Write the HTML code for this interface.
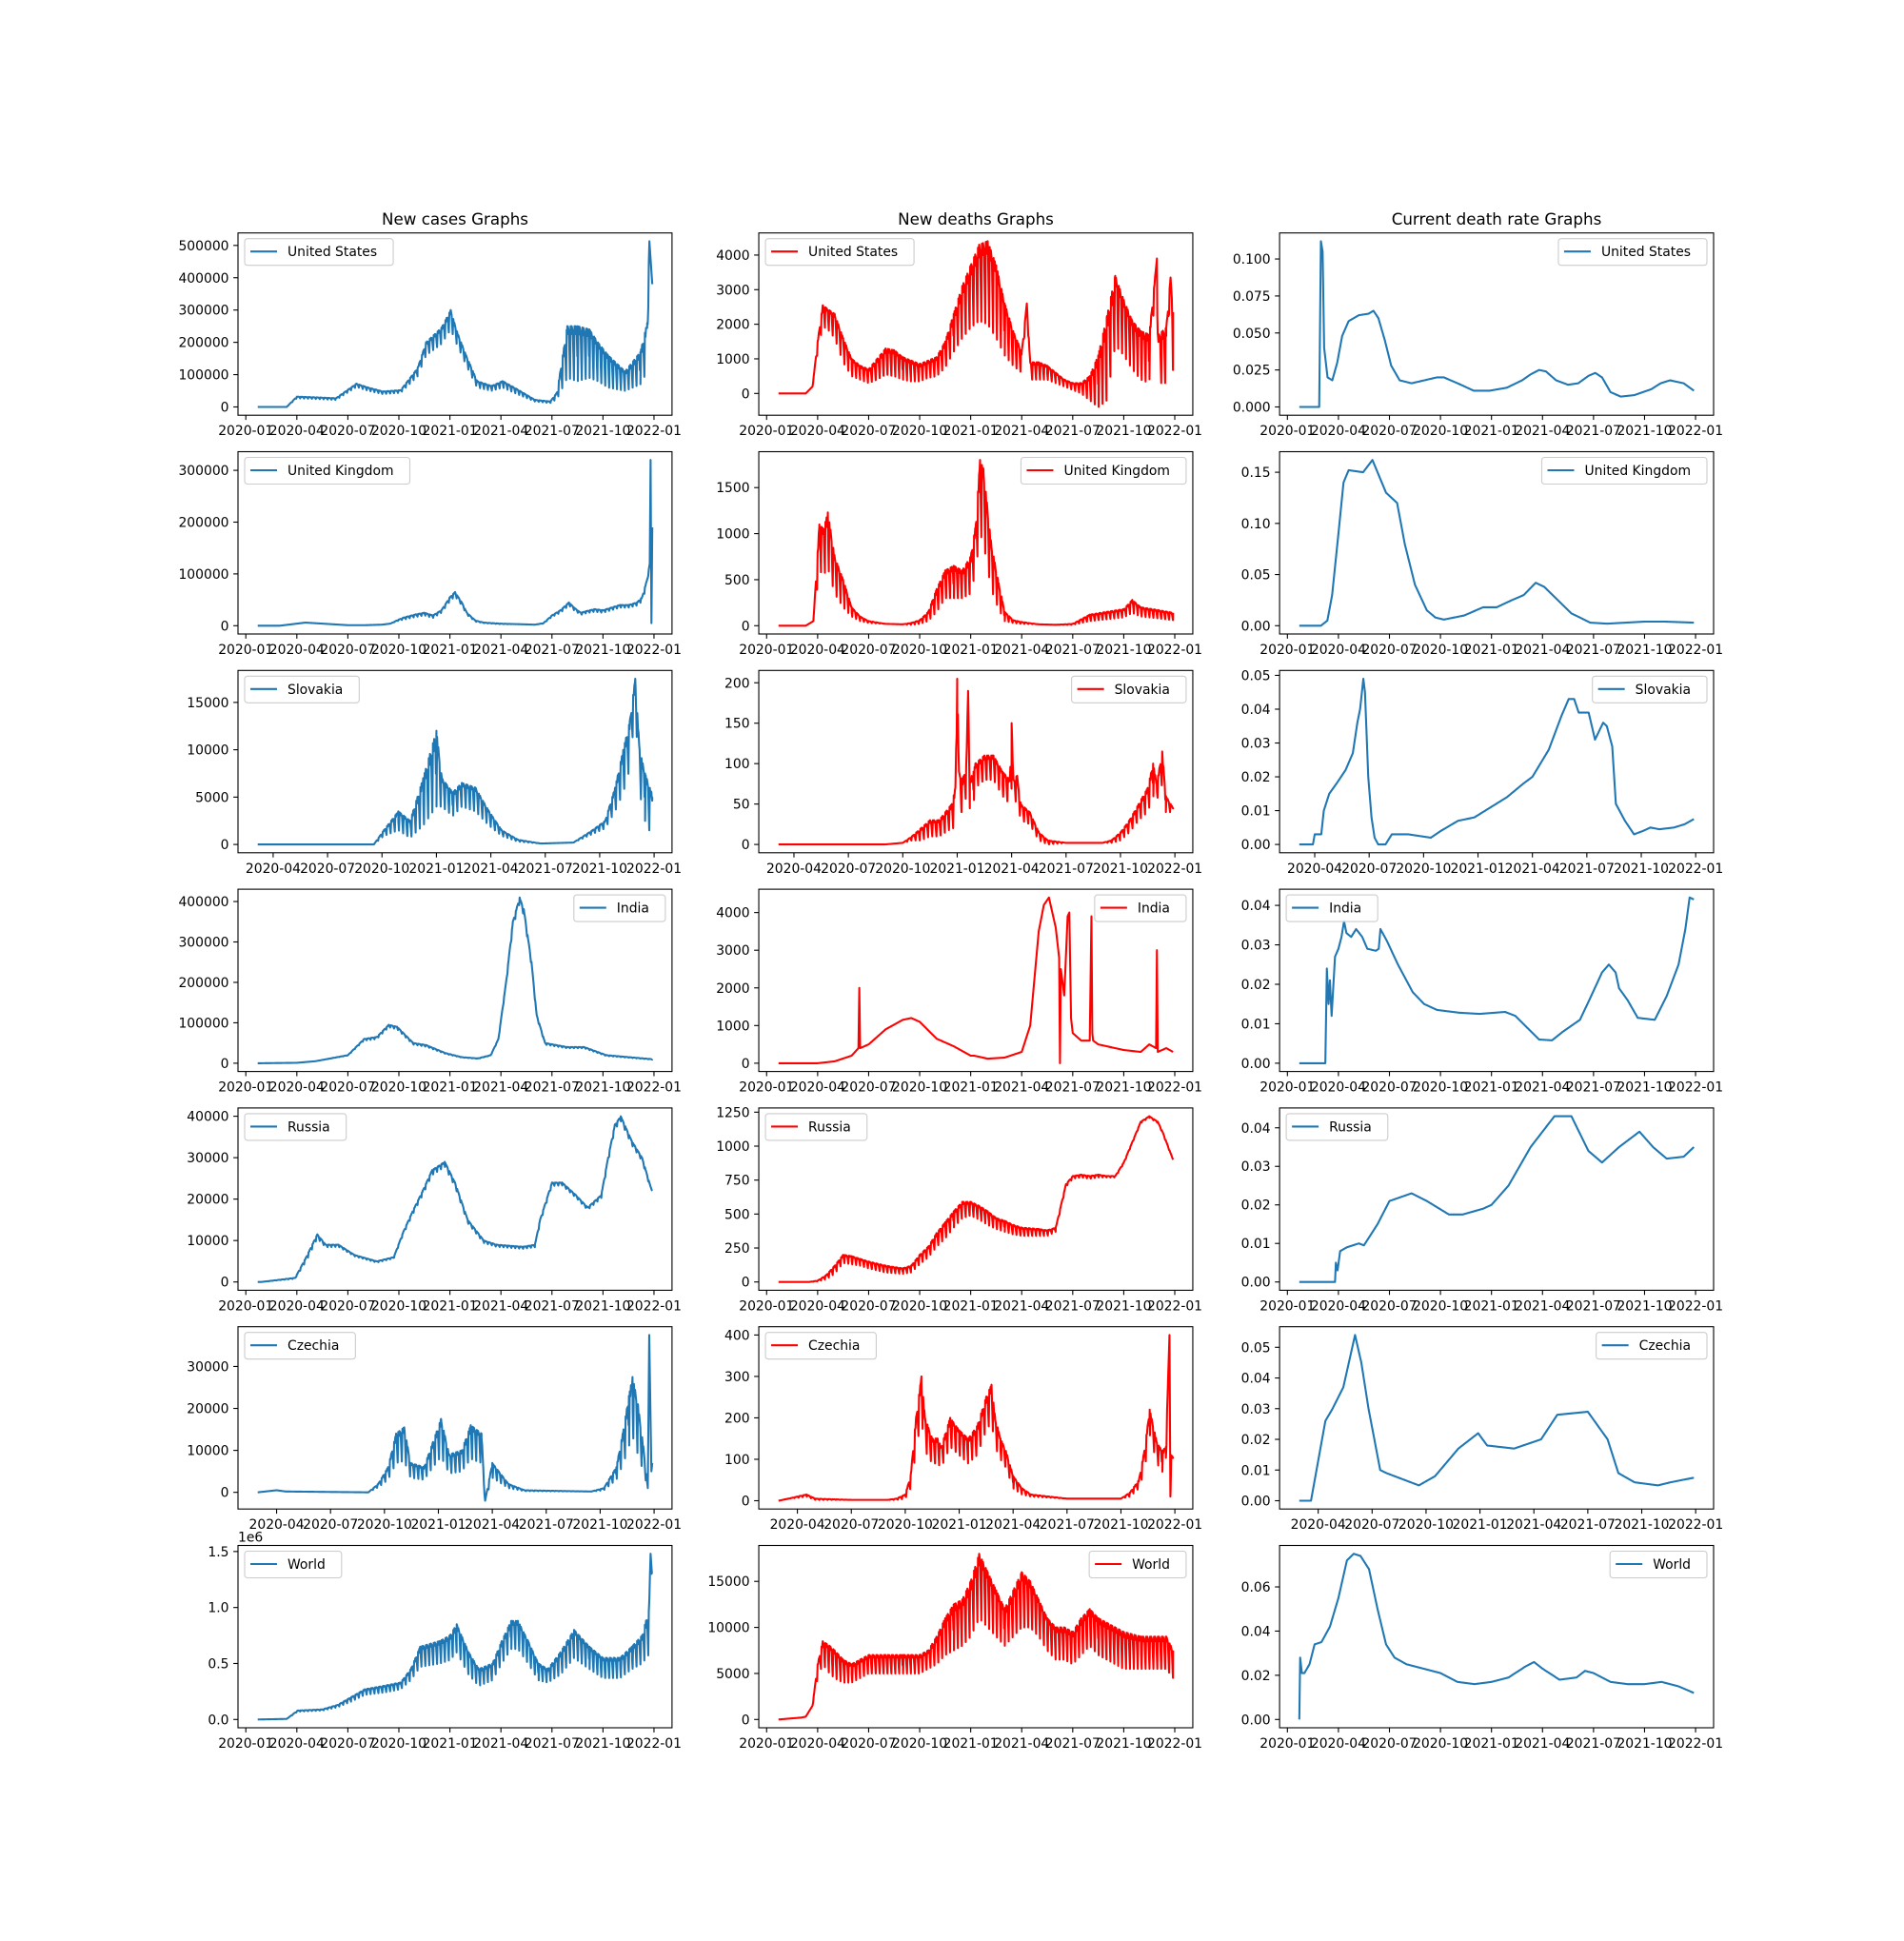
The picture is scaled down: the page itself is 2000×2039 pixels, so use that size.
<!DOCTYPE html>
<html><head><meta charset="utf-8"><style>
html,body{margin:0;padding:0;background:#fff}
svg{display:block;font-family:"DejaVu Sans","Liberation Sans",sans-serif}
</style></head><body>
<svg id="fig" width="2000" height="2039" viewBox="0 0 2000 2039" xmlns="http://www.w3.org/2000/svg">
<rect width="2000" height="2039" fill="#fff"/>
<text x="478" y="236" font-size="16.7" text-anchor="middle">New cases Graphs</text>
<text x="1025" y="236" font-size="16.7" text-anchor="middle">New deaths Graphs</text>
<text x="1572" y="236" font-size="16.7" text-anchor="middle">Current death rate Graphs</text>
</svg>
<script>
// ---- data (t = months since 2020-01-01) ----
const countries = ["United States","United Kingdom","Slovakia","India","Russia","Czechia","World"];
const tickMonths = [0,3,6,9,12,15,18,21,24];
const tickDates = ["2020-01","2020-04","2020-07","2020-10","2021-01","2021-04","2021-07","2021-10","2022-01"];
const dataStart = [0.7,0.7,2.15,0.7,0.7,1.95,0.7];
const dataEnd = [23.9,23.9,23.9,23.9,23.9,23.9,23.9];

// New cases
const usCasesT = [0.7,2.4,3.0,4.0,5.3,6.5,7.2,8.06,9.1,10.1,10.6,11.5,12.05,12.4,12.95,13.6,14.45,15.1,15.95,17.0,17.9,18.3,18.9,19.5,20.2,20.7,21.3,22.3,23.2,23.6,23.73,23.9];
const usCasesV = [0,0,32,30,27,72,60,48,52,120,200,245,300,235,160,80,65,80,55,22,17,45,250,250,240,200,160,110,170,260,513,380];
const usCasesA = [0,0,5,5,5,10,10,8,8,25,40,50,60,40,30,20,15,20,15,5,5,20,160,170,150,120,100,60,100,150,0,0];
const ukCasesT = [0.7,2.0,3.0,3.5,4.0,5.0,6.0,7.0,8.0,8.5,9.0,9.3,10.0,10.5,11.0,11.5,12.0,12.3,12.7,13.0,13.5,14.0,15.0,16.0,17.0,17.5,18.0,18.5,19.0,19.3,19.7,20.0,20.5,21.0,21.5,22.0,22.5,23.0,23.3,23.6,23.75,23.8,23.85,23.9];
const ukCasesV = [0,0,4,6,5,3,1,1,2,4,12,16,22,25,20,30,55,65,45,25,10,6,4,3,2,5,20,30,45,35,25,28,32,30,35,40,40,45,55,90,120,320,5,190];
const ukCasesA = [0,0,0,0,0,0,0,0,0,0,2,4,5,5,5,5,8,8,6,4,2,1,1,0,0,1,3,5,6,5,4,4,5,5,5,5,5,6,8,10,0,0,0,0];
const skCasesT = [2.15,8.55,9.1,9.9,10.55,11.27,12.0,12.3,12.9,13.4,14.15,14.9,15.6,16.5,17.75,19.55,20.6,21.3,21.85,22.3,22.66,22.96,23.2,23.5,23.85,23.9];
const skCasesV = [0,0,1500,3500,2500,7000,12000,7000,5500,6500,6000,3500,1500,500,100,200,1500,2500,6000,10000,13000,17500,10000,7500,5500,5000];
const skCasesA = [0,0,600,2000,1800,5000,8000,3000,2500,2500,2500,1500,600,200,0,0,400,800,2500,4500,5000,3000,4500,5000,4500,4000];
const inCasesT = [0.9,3.0,4.1,6.0,6.95,7.7,8.4,8.9,9.85,10.6,11.75,12.7,13.65,14.4,14.85,15.3,15.7,16.1,16.35,16.8,17.1,17.6,18.9,19.9,21.2,23.9];
const inCasesV = [0,1,5,20,60,65,95,90,50,45,25,15,12,20,60,200,350,410,380,250,120,50,40,40,20,10];
const inCasesA = [0,0,0,1,4,5,6,6,4,4,2,1,1,1,3,8,15,15,15,10,6,4,3,3,2,1];
const ruCasesT = [0.9,2.9,3.55,4.2,4.7,5.45,6.4,7.7,8.7,9.25,9.8,10.4,10.95,11.7,12.3,13.05,14.0,14.75,16.3,17.0,17.3,18.0,18.6,19.4,20.1,20.9,21.3,21.7,22.05,22.7,23.3,23.8,23.9];
const ruCasesV = [0,1000,6000,11500,9000,9000,6500,5000,6000,12000,17000,22000,27000,29000,24000,15000,10000,9000,8500,9000,15000,24000,24000,21000,18000,21000,30000,38000,40000,34000,30000,23000,22000];
const ruCasesA = [0,200,1000,1000,600,500,300,300,300,600,800,1000,1200,1200,1000,800,600,500,500,600,800,800,700,600,600,800,1000,1200,1200,1000,800,600,0];
const czCasesT = [1.95,3.0,3.5,8.1,8.65,9.2,9.65,10.1,10.45,11.2,11.7,12.15,12.6,13.3,13.8,14.4,14.6,15.0,15.9,16.8,20.5,21.2,21.9,22.3,22.6,22.8,23.1,23.4,23.65,23.73,23.85,23.9];
const czCasesV = [0,500,200,0,2000,6000,14000,15500,7000,6000,12000,17500,9000,10000,16000,14000,-2000,7000,2000,500,200,1000,6000,15000,23000,27500,21000,11000,1000,37500,5000,7000];
const czCasesA = [0,0,0,0,800,3000,7000,8000,3500,3000,6000,9000,4500,5000,8000,7000,0,3500,1000,200,0,500,3000,8000,12000,14000,12000,6000,0,0,0,0];
const woCasesT = [0.7,2.4,3.05,4.5,5.4,6.2,7.0,8.1,9.1,9.7,10.25,11.4,12.0,12.4,13.1,13.7,14.5,15.05,15.6,16.0,16.6,17.2,17.75,18.5,19.3,20.2,21.0,22.0,22.7,23.3,23.7,23.8,23.88,23.9];
const woCasesV = [0,0.005,0.08,0.09,0.13,0.2,0.27,0.3,0.33,0.45,0.65,0.7,0.75,0.85,0.6,0.45,0.5,0.7,0.88,0.88,0.7,0.5,0.45,0.6,0.8,0.65,0.55,0.55,0.65,0.75,0.98,1.48,1.3,1.3];
const woCasesA = [0,0,0.01,0.01,0.02,0.04,0.05,0.06,0.06,0.1,0.18,0.2,0.22,0.25,0.2,0.15,0.15,0.2,0.25,0.25,0.2,0.15,0.12,0.2,0.25,0.2,0.18,0.18,0.2,0.25,0.4,0,0,0];

// New deaths
const usDeathsT = [0.7,2.3,2.7,3.0,3.3,3.7,4,4.5,5,5.5,6,6.5,7,7.5,8,8.5,9,9.5,10,10.5,11,11.5,12,12.5,13,13.5,14,14.5,15,15.3,15.5,16,16.5,17,17.5,18,18.5,19,19.5,20,20.5,21,21.5,22,22.5,22.95,23.0,23.05,23.5,23.75,23.9];
const usDeathsV = [0,0,200,1500,2550,2400,2300,1600,1000,800,700,1000,1300,1250,1050,950,850,950,1050,1500,2300,3100,3700,4300,4400,3700,2600,1800,1200,2600,900,900,800,600,400,300,300,500,1100,2200,3400,2700,2100,1800,1700,3900,1700,1700,1900,3350,2350];
const usDeathsA = [0,0,0,300,600,600,700,700,500,400,400,600,750,750,650,600,500,500,550,750,1100,1500,1800,2200,2400,2100,1500,1000,600,0,500,500,400,300,200,200,300,700,1500,2400,2000,1600,1400,1400,1400,0,1400,1400,1600,0,1800];
const ukDeathsT = [0.7,2.3,2.75,3.1,3.35,3.6,4,4.5,5,5.5,6,7,8,8.5,9,9.5,10,10.5,11,11.5,12,12.3,12.55,12.75,13.2,13.6,14,14.5,15,16,17,18,18.5,19,20,21,21.5,22,23,23.9];
const ukDeathsV = [0,0,50,1100,1050,1230,750,500,200,100,50,20,15,30,60,150,400,600,650,600,750,1100,1800,1700,900,500,150,60,40,15,10,20,70,120,150,180,280,200,170,140];
const ukDeathsA = [0,0,0,500,500,600,400,300,100,50,20,0,0,20,40,100,250,300,350,300,400,500,800,800,500,300,100,30,20,0,0,10,40,70,80,90,140,100,90,80];
const skDeathsT = [2.15,8,9,9.5,10,10.5,11,11.7,11.9,12.0,12.1,12.3,12.5,12.6,12.7,12.9,13,13.5,14,14.5,14.9,15.0,15.1,15.3,15.5,16,16.5,17,18,19,20,20.5,21,21.5,22,22.5,22.8,23,23.3,23.5,23.9];
const skDeathsV = [0,0,2,10,20,30,30,50,70,205,90,80,100,190,80,90,100,110,110,90,80,150,80,85,50,40,15,5,2,2,2,5,15,30,50,70,100,75,115,60,45];
const skDeathsA = [0,0,0,5,15,20,20,30,50,60,50,40,40,50,40,40,30,30,30,30,30,80,30,30,20,15,10,5,0,0,0,3,10,15,20,30,40,20,40,20,5];
const inDeathsT = [0.9,3,4,5,5.4,5.45,5.5,6,7,8,8.5,9,10,11,12,12.2,13,14,15,15.5,16,16.3,16.6,17,17.2,17.25,17.3,17.5,17.7,17.8,17.9,18,18.5,19,19.1,19.15,19.2,19.5,20,21,22,22.5,22.9,22.95,23,23.5,23.9];
const inDeathsV = [0,0,50,200,400,2000,400,500,900,1150,1200,1100,650,450,200,200,120,150,300,1000,3500,4200,4400,3600,2800,0,2500,1800,3900,4000,1200,800,600,600,3900,800,600,500,450,350,300,500,400,3000,300,400,300];
const ruDeathsT = [1,2.5,3,3.5,4,4.5,5,5.5,6,7,8,8.5,9,9.5,10,10.5,11,11.5,12,12.5,13,13.5,14,14.5,15,16,16.5,17,17.3,17.6,18,18.5,19,19.5,20,20.5,21,21.5,22,22.5,23,23.3,23.6,23.9];
const ruDeathsV = [0,0,10,50,120,200,190,170,150,120,100,120,200,260,360,440,520,590,590,560,520,470,450,420,400,390,380,400,560,720,780,790,780,790,780,780,880,1030,1180,1220,1180,1100,1000,900];
const ruDeathsA = [0,0,5,30,60,60,60,50,50,50,40,50,70,80,100,120,120,120,100,100,100,80,80,70,60,50,40,30,20,20,20,20,20,20,10,10,10,10,10,10,10,10,10,0];
const czDeathsT = [1.95,2.5,3,3.5,4,6,8,8.5,9,9.3,9.6,9.9,10.1,10.5,10.8,11,11.5,12,12.5,13,13.5,13.8,14,14.3,14.6,15,15.5,16,18,20,21,21.5,22,22.3,22.6,23,23.3,23.5,23.7,23.75,23.8,23.9];
const czDeathsV = [0,5,10,15,5,2,2,5,15,60,200,300,200,150,150,130,200,170,150,180,250,280,200,150,120,60,30,15,5,5,5,20,50,120,220,140,120,130,400,10,110,105];
const czDeathsA = [0,0,3,5,3,0,0,3,10,30,80,100,80,60,60,50,70,60,60,70,80,90,70,50,40,30,15,5,0,0,0,10,20,50,60,50,50,50,0,0,40,40];
const woDeathsT = [0.7,2,2.3,2.7,3,3.3,3.7,4,4.5,5,5.5,6,7,8,8.5,9,9.5,10,10.5,11,11.5,12,12.5,13,13.5,14,14.5,15,15.5,16,16.5,17,17.5,18,18.5,19,19.5,20,21,22,23,23.5,23.9];
const woDeathsV = [0,200,300,1500,6000,8500,8000,7500,6500,6000,6500,7000,7000,7000,7000,7000,7500,9000,11000,12500,13000,15000,18000,16000,14000,12000,14000,16000,15000,13000,11000,10000,10000,9500,11000,12000,11000,10500,9500,9000,9000,9000,7500];
const woDeathsA = [0,0,0,0,1500,2500,3000,3000,2500,2000,2000,2000,2000,2000,2000,2000,2000,3000,4000,5000,5000,6000,7000,6000,5000,4000,5000,6000,5000,4000,3500,3500,3500,3500,4000,4000,4000,4000,4000,3500,3500,3500,3000];

// Current death rate
const usRateT = [0.7,1.87,1.97,2.07,2.16,2.36,2.64,2.93,3.22,3.6,4.2,4.77,5.06,5.35,5.73,6.1,6.6,7.3,8.05,8.8,9.2,10.2,10.95,11.9,12.9,13.8,14.3,14.8,15.2,15.8,16.5,17.1,17.7,18.1,18.5,19.0,19.6,20.4,21.4,21.95,22.5,23.3,23.9];
const usRateV = [0,0,0.112,0.105,0.04,0.02,0.018,0.03,0.048,0.058,0.062,0.063,0.065,0.06,0.045,0.028,0.018,0.016,0.018,0.02,0.02,0.015,0.011,0.011,0.013,0.018,0.022,0.025,0.024,0.018,0.015,0.016,0.021,0.023,0.02,0.01,0.007,0.008,0.012,0.016,0.018,0.016,0.011];
const ukRateT = [0.7,1.97,2.35,2.63,3.0,3.3,3.6,4.45,5.0,5.3,5.8,6.45,6.9,7.5,8.2,8.7,9.2,10.4,11.5,12.3,13.2,13.9,14.6,15.1,15.9,16.7,17.2,17.8,18.8,21.0,22.2,23.9];
const ukRateV = [0,0,0.005,0.03,0.09,0.14,0.152,0.15,0.162,0.15,0.13,0.12,0.08,0.04,0.015,0.008,0.006,0.01,0.018,0.018,0.025,0.03,0.042,0.038,0.025,0.012,0.008,0.003,0.002,0.004,0.004,0.003];
const skRateT = [2.15,2.9,3.0,3.36,3.5,3.8,4.2,4.7,5.1,5.35,5.5,5.68,5.77,5.95,6.13,6.3,6.5,6.9,7.25,8.15,9.4,9.95,10.9,11.8,12.7,13.6,14.5,15.0,15.9,16.6,17.0,17.3,17.55,18.1,18.45,18.9,19.1,19.4,19.6,20.1,20.6,21.1,21.5,22.0,22.8,23.4,23.9];
const skRateV = [0,0,0.003,0.003,0.01,0.015,0.018,0.022,0.027,0.036,0.04,0.049,0.045,0.02,0.008,0.002,0,0,0.003,0.003,0.002,0.004,0.007,0.008,0.011,0.014,0.018,0.02,0.028,0.038,0.043,0.043,0.039,0.039,0.031,0.036,0.035,0.029,0.012,0.007,0.003,0.004,0.005,0.0045,0.005,0.006,0.0075];
const inRateT = [0.9,2.23,2.32,2.42,2.5,2.6,2.8,3.0,3.18,3.33,3.47,3.75,4.04,4.4,4.7,5.2,5.37,5.47,5.85,6.5,7.37,8.04,8.8,10.1,11.3,12.8,13.4,14.1,14.8,15.56,16.2,17.2,17.75,18.5,18.9,19.3,19.5,20.0,20.4,20.6,21.6,22.3,23.0,23.4,23.65,23.9];
const inRateV = [0,0,0.024,0.015,0.021,0.012,0.027,0.029,0.032,0.036,0.033,0.032,0.034,0.032,0.029,0.0285,0.029,0.034,0.031,0.025,0.018,0.015,0.0135,0.0128,0.0125,0.013,0.012,0.009,0.006,0.0058,0.008,0.011,0.016,0.023,0.025,0.023,0.019,0.016,0.013,0.0115,0.011,0.017,0.025,0.034,0.042,0.0415];
const ruRateT = [0.9,2.8,2.85,2.95,3.1,3.5,4.2,4.5,5.3,6.0,7.3,8.2,9.5,10.3,11.5,12.0,13.0,14.3,15.7,16.7,17.7,18.5,19.5,20.7,21.5,22.3,23.3,23.9];
const ruRateV = [0,0,0.005,0.003,0.008,0.009,0.010,0.0095,0.015,0.021,0.023,0.021,0.0175,0.0175,0.019,0.02,0.025,0.035,0.043,0.043,0.034,0.031,0.035,0.039,0.035,0.032,0.0325,0.035];
const czRateT = [1.95,2.6,3.4,3.8,4.4,5.05,5.4,5.8,6.45,6.8,8.6,9.5,10.8,11.9,12.4,13.9,15.4,16.3,18.0,19.1,19.7,20.6,21.9,22.6,23.9];
const czRateV = [0,0,0.026,0.03,0.037,0.054,0.045,0.03,0.01,0.009,0.005,0.008,0.017,0.022,0.018,0.017,0.02,0.028,0.029,0.02,0.009,0.006,0.005,0.006,0.0075];
const woRateT = [0.7,0.75,0.85,1.0,1.3,1.6,2.0,2.5,3.0,3.5,3.9,4.3,4.8,5.3,5.8,6.3,7.0,8.0,9.0,10.0,11.0,12.0,13.0,14.0,14.5,15.0,16.0,17.0,17.5,18.0,19.0,20.0,21.0,22.0,23.0,23.9];
const woRateV = [0,0.028,0.021,0.021,0.025,0.034,0.035,0.042,0.055,0.072,0.075,0.074,0.068,0.05,0.034,0.028,0.025,0.023,0.021,0.017,0.016,0.017,0.019,0.024,0.026,0.023,0.018,0.019,0.022,0.021,0.017,0.016,0.016,0.017,0.015,0.012];

// y tick values & labels
const casesTicks = [[0,100000,200000,300000,400000,500000],[0,100000,200000,300000],[0,5000,10000,15000],[0,100000,200000,300000,400000],[0,10000,20000,30000,40000],[0,10000,20000,30000],[0,0.5,1.0,1.5]];
const casesTickLabels = [["0","100000","200000","300000","400000","500000"],["0","100000","200000","300000"],["0","5000","10000","15000"],["0","100000","200000","300000","400000"],["0","10000","20000","30000","40000"],["0","10000","20000","30000"],["0.0","0.5","1.0","1.5"]];
const deathsTicks = [[0,1000,2000,3000,4000],[0,500,1000,1500],[0,50,100,150,200],[0,1000,2000,3000,4000],[0,250,500,750,1000,1250],[0,100,200,300,400],[0,5000,10000,15000]];
const rateTicks = [[0,0.025,0.05,0.075,0.1],[0,0.05,0.1,0.15],[0,0.01,0.02,0.03,0.04,0.05],[0,0.01,0.02,0.03,0.04],[0,0.01,0.02,0.03,0.04],[0,0.01,0.02,0.03,0.04,0.05],[0,0.02,0.04,0.06]];
const rateTickLabels = [["0.000","0.025","0.050","0.075","0.100"],["0.00","0.05","0.10","0.15"],["0.00","0.01","0.02","0.03","0.04","0.05"],["0.00","0.01","0.02","0.03","0.04"],["0.00","0.01","0.02","0.03","0.04"],["0.00","0.01","0.02","0.03","0.04","0.05"],["0.00","0.02","0.04","0.06"]];
const casesUnit = [1000,1000,1,1000,1,1,1];
const legendLoc = [["l","l","r"],["l","r","r"],["l","r","r"],["r","r","l"],["l","l","l"],["l","l","r"],["l","r","r"]];

const casesSeries = [[usCasesT,usCasesV,usCasesA],[ukCasesT,ukCasesV,ukCasesA],[skCasesT,skCasesV,skCasesA],[inCasesT,inCasesV,inCasesA],[ruCasesT,ruCasesV,ruCasesA],[czCasesT,czCasesV,czCasesA],[woCasesT,woCasesV,woCasesA]];
const deathsSeries = [[usDeathsT,usDeathsV,usDeathsA],[ukDeathsT,ukDeathsV,ukDeathsA],[skDeathsT,skDeathsV,skDeathsA],[inDeathsT,inDeathsV,null],[ruDeathsT,ruDeathsV,ruDeathsA],[czDeathsT,czDeathsV,czDeathsA],[woDeathsT,woDeathsV,woDeathsA]];
const rateSeries = [[usRateT,usRateV,null],[ukRateT,ukRateV,null],[skRateT,skRateV,null],[inRateT,inRateV,null],[ruRateT,ruRateV,null],[czRateT,czRateV,null],[woRateT,woRateV,null]];

// ---- rendering ----
const NS = "http://www.w3.org/2000/svg";
const svg = document.getElementById('fig');
const COLX = [250, 797.05, 1344.1], AW = 455.9, AH = 191.5, TOP = 244.7, STEP = 229.8;
const BLUE = "#1f77b4", RED = "#ff0000";
const weekPattern = [0, 0.15, 0, 0.05, 0.1, 0.55, 1];
const FS = 13.9;
function mk(tag, attrs, parent) { const e = document.createElementNS(NS, tag); for (const k in attrs) e.setAttribute(k, attrs[k]); (parent || svg).appendChild(e); return e; }
function interp(T, V, t) {
  if (t <= T[0]) return V[0];
  for (let i = 1; i < T.length; i++) if (t <= T[i]) { const f = (t - T[i-1]) / (T[i] - T[i-1]); return V[i-1] + f * (V[i] - V[i-1]); }
  return V[V.length - 1];
}
function buildPoints(T, V, A, unit, t0, t1) {
  const pts = []; const dt = 1 / 30.44;
  const knots = new Set(T.map(x => +x.toFixed(4)));
  let grid = [];
  for (let t = t0; t <= t1 + 1e-9; t += dt) grid.push(+t.toFixed(4));
  T.forEach(x => grid.push(+x.toFixed(4)));
  grid = Array.from(new Set(grid)).sort((a, b) => a - b).filter(t => t >= t0 - 1e-6 && t <= t1 + 1e-6);
  for (const t of grid) {
    let v = interp(T, V, t);
    if (A && !knots.has(t)) { const a = interp(T, A, t); const d = Math.round((t - t0) * 30.44); v -= a * weekPattern[((d % 7) + 7) % 7]; }
    pts.push([t, v * unit]);
  }
  return pts;
}
function panel(row, col, series, color, ticks, tickLabels, unit, label) {
  const x0 = COLX[col], y0 = TOP + row * STEP;
  const g = mk('g', {});
  
  
  const t0 = dataStart[row], t1 = dataEnd[row];
  const [T, V, A] = series;
  const pts = buildPoints(T, V, A, unit, t0, t1);
  let mn = Infinity, mx = -Infinity; pts.forEach(p => { mn = Math.min(mn, p[1]); mx = Math.max(mx, p[1]); });
  const yr = mx - mn; const ymin = mn - 0.05 * yr, ymax = mx + 0.05 * yr;
  const xs = t1 - t0; const xmin = t0 - 0.05 * xs, xmax = t1 + 0.05 * xs;
  const X = t => x0 + (t - xmin) / (xmax - xmin) * AW;
  const Y = v => y0 + AH - (v - ymin) / (ymax - ymin) * AH;
  const clip = 'clip' + row + '_' + col;
  const cp = mk('clipPath', { id: clip }, g); mk('rect', { x: x0, y: y0, width: AW, height: AH }, cp);
  const line = mk('polyline', { points: pts.map(p => X(p[0]).toFixed(2) + ',' + Y(p[1]).toFixed(2)).join(' '), fill: 'none', stroke: color, 'stroke-width': 2.08, 'stroke-linejoin': 'round', 'clip-path': 'url(#' + clip + ')' }, g);
  
  
  const frame = mk('rect', { x: x0, y: y0, width: AW, height: AH, fill: 'none', stroke: '#000', 'stroke-width': 1.1 }, g);
  
  
  tickMonths.forEach((m, i) => {
    if (m < xmin || m > xmax) return;
    const x = X(m);
    mk('line', { x1: x, y1: y0 + AH, x2: x, y2: y0 + AH + 4.9, stroke: '#000', 'stroke-width': 1.1 }, g);
    const tx = mk('text', { x: x, y: y0 + AH + 21, 'font-size': FS, 'text-anchor': 'middle' }, g);
    tx.textContent = tickDates[i];
    
    
  });
  ticks.forEach((v, i) => {
    const y = Y(v);
    mk('line', { x1: x0 - 4.9, y1: y, x2: x0, y2: y, stroke: '#000', 'stroke-width': 1.1 }, g);
    const ty = mk('text', { x: x0 - 9.5, y: y + 5, 'font-size': FS, 'text-anchor': 'end' }, g);
    ty.textContent = tickLabels[i];
    
    
  });
  if (label) { const o = mk('text', { x: x0, y: y0 - 4, 'font-size': FS }, g); o.textContent = label;   }
  const lg = mk('g', {}, g);
  
  
  const box = mk('rect', { x: 0, y: y0 + 6, width: 10, height: 28, rx: 3, fill: '#fff', 'fill-opacity': 0.8, stroke: '#ccc', 'stroke-width': 1.1 }, lg);
  const ln = mk('line', { x1: 0, y1: y0 + 19.5, x2: 0, y2: y0 + 19.5, stroke: color, 'stroke-width': 2.08 }, lg);
  const lt = mk('text', { x: 0, y: y0 + 24.5, 'font-size': FS }, lg);
  lt.textContent = countries[row];
  
  
  const tw = lt.getComputedTextLength();
  const bw = tw + 62;
  const bx = legendLoc[row][col] === 'l' ? x0 + 7 : x0 + AW - 7 - bw;
  box.setAttribute('x', bx); box.setAttribute('width', bw);
  ln.setAttribute('x1', bx + 6); ln.setAttribute('x2', bx + 34);
  lt.setAttribute('x', bx + 45);
}
for (let r = 0; r < 7; r++) {
  panel(r, 0, casesSeries[r], BLUE, casesTicks[r].map(v => r === 6 ? v * 1e6 : v), casesTickLabels[r], r === 6 ? 1e6 : casesUnit[r], r === 6 ? '1e6' : null);
  panel(r, 1, deathsSeries[r], RED, deathsTicks[r], deathsTicks[r].map(String), 1, null);
  panel(r, 2, rateSeries[r], BLUE, rateTicks[r], rateTickLabels[r], 1, null);
}
</script>
</body></html>
